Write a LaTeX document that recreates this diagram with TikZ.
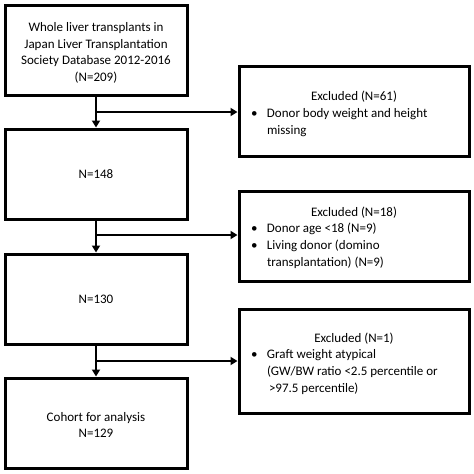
\documentclass[tikz,border=0pt]{standalone}
\usepackage{fontspec}
\setmainfont{Carlito}
\usepackage{array}
\usetikzlibrary{arrows.meta}
\begin{document}
\begin{tikzpicture}[x=1pt,y=-1pt,
  mainbox/.style={draw=black,line width=3pt,minimum width=182pt,minimum height=90pt,inner sep=0pt},
  exbox/.style={draw=black,line width=3pt,minimum width=230pt,minimum height=90pt,inner sep=0pt},
  txt/.style={inner sep=0pt,align=center,font=\fontsize{13}{16.7}\selectfont},
  arr/.style={line width=2pt,-{Triangle[length=7pt,width=8pt]}}]
\useasboundingbox (0,0) rectangle (474,474);
\node[mainbox] (b1) at (96,50) {};
\node[txt,yshift=-3pt] (t1) at (b1.center) {Whole liver transplants in\\Japan Liver Transplantation\\Society Database 2012-2016\\(N=209)};
\node[mainbox] (b2) at (96,174) {};
\node[txt] (t2) at (b2.center) {N=148};
\node[mainbox] (b3) at (96,299) {};
\node[txt] (t3) at (b3.center) {N=130};
\node[mainbox] (b4) at (96,423) {};
\node[txt,yshift=-2pt] (t4) at (b4.center) {Cohort for analysis\\N=129};
\node[exbox] (e1) at (354,111) {};
\node[txt,yshift=-3pt] (s1) at (e1.center) {\begin{tabular}{@{}p{16pt}@{}p{190pt}@{}}\multicolumn{2}{c}{Excluded (N=61)}\\ \textbullet & Donor body weight and height\\ & missing\end{tabular}};
\node[exbox] (e2) at (354,236) {};
\node[txt,yshift=-2pt] (s2) at (e2.center) {\begin{tabular}{@{}p{16pt}@{}p{190pt}@{}}\multicolumn{2}{c}{Excluded (N=18)}\\ \textbullet & Donor age <18 (N=9)\\ \textbullet & Living donor (domino\\ & transplantation) (N=9)\end{tabular}};
\node[exbox,minimum height=104pt] (e3) at (354,361) {};
\node[txt,yshift=-3pt] (s3) at (e3.center) {\begin{tabular}{@{}p{16pt}@{}p{190pt}@{}}\multicolumn{2}{c}{Excluded (N=1)}\\ \textbullet & Graft weight atypical\\ & (GW/BW ratio <2.5 percentile or\\ & \hspace{2pt}>97.5 percentile)\end{tabular}};
\coordinate (j1) at (96,112);
\coordinate (j2) at (96,235);
\coordinate (j3) at (96,361);
\draw[arr] (b1.south) -- (b2.north);
\draw[arr] (b2.south) -- (b3.north);
\draw[arr] (b3.south) -- (b4.north);
\draw[arr] (j1) -- (j1 -| e1.west);
\draw[arr] (j2) -- (j2 -| e2.west);
\draw[arr] (j3) -- (j3 -| e3.west);
\end{tikzpicture}
\end{document}
